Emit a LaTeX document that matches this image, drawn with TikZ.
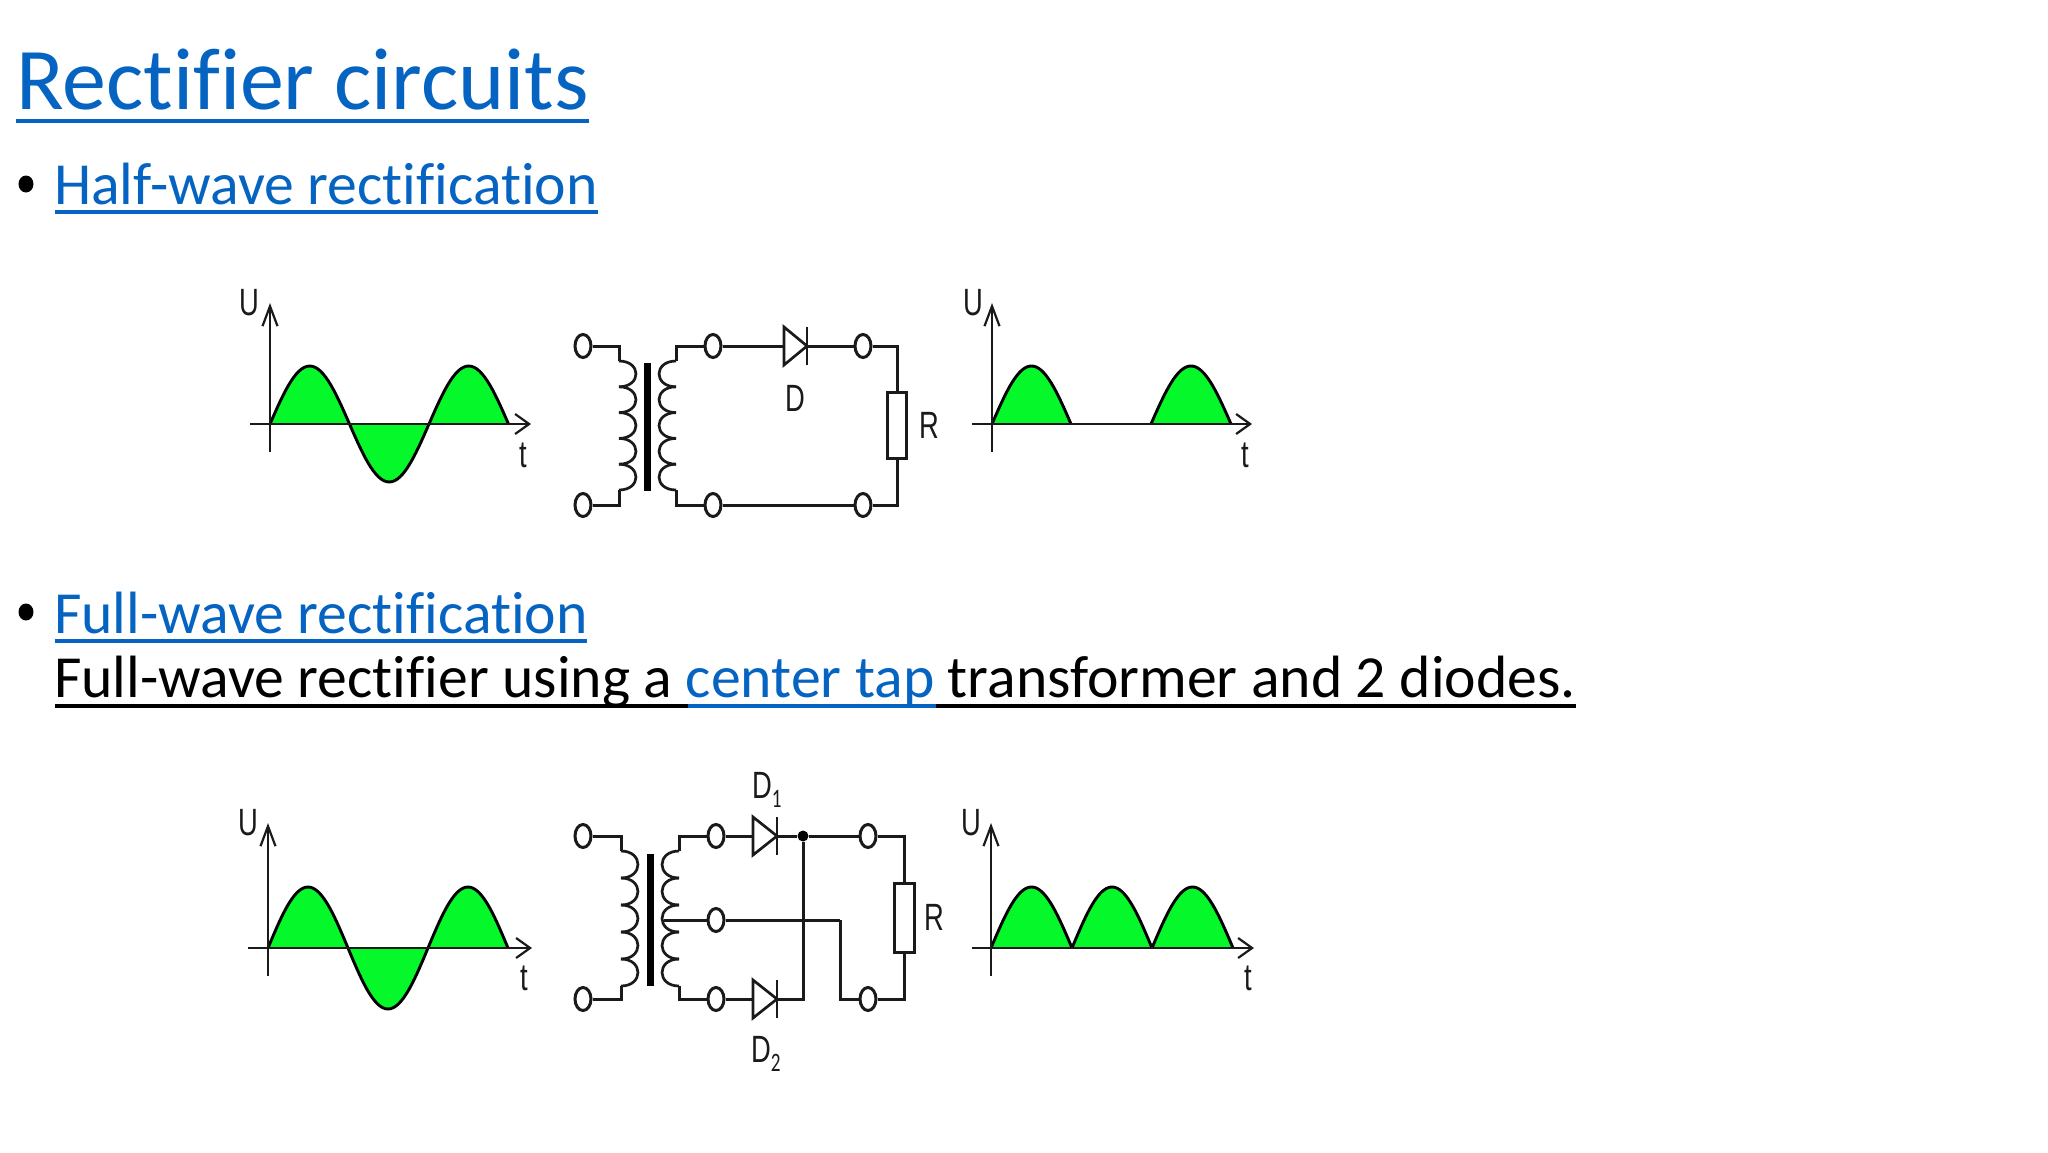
\documentclass[tikz,border=0pt]{standalone}
\usepackage{fontspec}
\usepackage{graphicx}
\setmainfont[Ligatures={NoCommon}]{Carlito}
\newfontfamily\lblfont{Liberation Sans}
\usetikzlibrary{arrows.meta,shapes.geometric}
\definecolor{linkblue}{HTML}{0563C1}
\definecolor{wavegreen}{HTML}{05F82A}
\definecolor{ink}{HTML}{1A1A1A}
\tikzset{
  headtext/.style={anchor=base west,inner sep=0pt,text=linkblue,font=\fontsize{88}{88}\selectfont},
  bodytext/.style={anchor=base west,inner sep=0pt,font=\fontsize{59.7}{60}\selectfont},
  ul/.style={line width=3.2pt},
  bul/.style={ellipse,fill=black,minimum width=15pt,minimum height=17pt,inner sep=0pt},
  term/.style={ellipse,draw=ink,line width=3pt,fill=white,minimum width=16pt,minimum height=23pt,inner sep=0pt},
  wire/.style={draw=ink,line width=3pt,line join=miter},
  coilline/.style={draw=ink,line width=2.7pt},
  core/.style={fill=black},
  axisline/.style={draw=ink,line width=2.5pt},
  vhead/.style={-{Straight Barb[length=20pt,width=15pt,line width=2.2pt]}},
  hhead/.style={-{Straight Barb[length=14pt,width=20pt,line width=2.2pt]}},
  wave/.style={draw=black,line width=2.9pt,line join=round},
  area/.style={fill=wavegreen},
  lbl/.style={inner sep=0pt,text=ink,font=\lblfont\fontsize{38}{38}\selectfont},
  resist/.style={rectangle,draw=ink,line width=3pt,fill=white,minimum width=19pt,minimum height=66pt,inner sep=0pt},
  diodeshape/.style={draw=ink,line width=2.7pt,line join=miter},
  dot/.style={circle,fill=black,minimum size=11pt,inner sep=0pt}
}
\newcommand{\nar}[1]{\scalebox{0.72}[1]{#1}}
\newcommand{\sinewave}[4]{%
  \path[area] plot[domain=0:3,samples=91] ({#1+\x*#2},{#3-#4*sin(\x*180)}) -- cycle;
  \path[wave] plot[domain=0:3,samples=91] ({#1+\x*#2},{#3-#4*sin(\x*180)});
}
\newcommand{\hump}[4]{%
  \path[area] plot[domain=0:1,samples=41] ({#1+\x*(#2-#1)},{#3-#4*sin(\x*180)}) -- cycle;
  \path[wave] plot[domain=0:1,samples=41] ({#1+\x*(#2-#1)},{#3-#4*sin(\x*180)});
}
\newcommand{\axes}[7]{%
  \coordinate (#1vb) at (#2,#5); \coordinate (#1vt) at (#2,#4);
  \coordinate (#1hl) at (#6,#3); \coordinate (#1hr) at (#7,#3);
  \draw[axisline,vhead] (#1vb) -- (#1vt);
  \draw[axisline,hhead] (#1hl) -- (#1hr);
}
\newcommand{\coil}[4]{%
  \foreach \k in {0,...,4}{%
    \draw[coilline] ({#1},{#2+\k*#3}) .. controls ({#1+1.33*#4},{#2+\k*#3}) and ({#1+1.33*#4},{#2+(\k+1)*#3}) .. ({#1},{#2+(\k+1)*#3});
  }%
}
\newcommand{\diode}[5]{%
  \coordinate (#1a) at (#2,#4); \coordinate (#1c) at (#3,#4);
  \draw[diodeshape] (#2,{#4-#5}) -- (#1c) -- (#2,{#4+#5}) -- cycle;
  \draw[diodeshape] (#3,{#4-#5}) -- (#3,{#4+#5});
}
\begin{document}
\begin{tikzpicture}[x=1pt,y=-1pt]
\useasboundingbox[fill=white] (0,0) rectangle (2048,1152);

% ---- text
\node[headtext] (title) at (16,109) {Rectifier circuits};
\draw[ul,draw=linkblue,line width=4.5pt] (16,121) -- (589,121);
\node[bul] (b1) at (26,184) {};
\node[bodytext,text=linkblue] (half) at (54,204) {Half-wave rectification};
\draw[ul,draw=linkblue] (55,212) -- (598,212);
\node[bul] (b2) at (26,612) {};
\node[bodytext,text=linkblue] (full) at (54,633) {Full-wave rectification};
\draw[ul,draw=linkblue] (55,641) -- (587,641);
\node[bodytext] (desc) at (54,697) {Full-wave rectifier using a \textcolor{linkblue}{center tap} transformer and 2 diodes.};
\draw[ul,draw=black] (55,706) -- (688,706);
\draw[ul,draw=linkblue] (688,706) -- (936,706);
\draw[ul,draw=black] (936,706) -- (1576,706);

% ---- half-wave: input graph
\sinewave{270}{79.5}{424}{58}
\axes{ax1}{270}{424}{303}{452}{250}{531}
\node[lbl] (u1) at (249,303) {\nar{U}};
\node[lbl] (t1) at (523,455) {\nar{t}};

% ---- half-wave: circuit
\node[term] (a1) at (583,346) {};
\node[term] (a2) at (583,505) {};
\node[term] (a3) at (713,346) {};
\node[term] (a4) at (713,505) {};
\node[term] (a5) at (863,346) {};
\node[term] (a6) at (863,505) {};
\coordinate (ac1) at (619,361); \coordinate (ac2) at (619,490);
\coordinate (ac3) at (676,361); \coordinate (ac4) at (676,490);
\coil{619}{361}{25.8}{17}
\coil{676}{361}{25.8}{-17}
\fill[core] (644,363) rectangle (651,491);
\draw[wire] (a1) -| (ac1);
\draw[wire] (a2) -| (ac2);
\draw[wire] (a3) -| (ac3);
\draw[wire] (a4) -| (ac4);
\diode{da}{784}{807}{346}{19}
\draw[wire] (a3) -- (daa);
\draw[wire] (dac) -- (a5);
\node[resist] (ra) at (897,425) {};
\draw[wire] (a5) -| (ra.north);
\draw[wire] (ra.south) |- (a6);
\draw[wire] (a4) -- (a6);
\node[lbl] (dl) at (795,398) {\nar{D}};
\node[lbl] (rl) at (929,425) {\nar{R}};

% ---- half-wave: output graph
\hump{992}{1071}{424}{58}
\hump{1151}{1231}{424}{58}
\axes{ax2}{992}{424}{303}{452}{972}{1252}
\node[lbl] (u2) at (973,303) {\nar{U}};
\node[lbl] (t2) at (1245,455) {\nar{t}};

% ---- full-wave: input graph
\sinewave{268}{80}{948}{61}
\axes{ax3}{268}{948}{823}{976}{248}{532}
\node[lbl] (u3) at (248,823) {\nar{U}};
\node[lbl] (t3) at (524,978) {\nar{t}};

% ---- full-wave: circuit
\node[term] (b1t) at (583,836) {};
\node[term] (b2t) at (583,999) {};
\node[term] (b3t) at (716,836) {};
\node[term] (b4t) at (716,920) {};
\node[term] (b5t) at (716,999) {};
\node[term] (b6t) at (868,836) {};
\node[term] (b7t) at (868,999) {};
\coordinate (bc1) at (621,851); \coordinate (bc2) at (621,986);
\coordinate (bc3) at (679,851); \coordinate (bc4) at (679,986);
\coordinate (bmid) at (664,920);
\coil{621}{851}{27}{17}
\coil{679}{851}{27}{-17}
\fill[core] (647,854) rectangle (654,986);
\draw[wire] (b1t) -| (bc1);
\draw[wire] (b2t) -| (bc2);
\draw[wire] (b3t) -| (bc3);
\draw[wire] (b5t) -| (bc4);
\draw[wire] (bmid) -- (b4t);
\diode{db}{753}{777}{836}{19}
\diode{dc}{753}{777}{999}{19}
\draw[wire] (b3t) -- (dba);
\draw[wire] (b5t) -- (dca);
\node[dot] (jn) at (803,836) {};
\draw[wire] (dbc) -- (jn);
\draw[wire] (jn) -- (b6t);
\draw[wire] (jn) |- (dcc);
\coordinate (bturn) at (840,920);
\draw[wire] (b4t) -- (bturn);
\draw[wire] (bturn) |- (b7t);
\node[resist,minimum width=20pt,minimum height=69pt] (rb) at (904,918) {};
\draw[wire] (b6t) -| (rb.north);
\draw[wire] (rb.south) |- (b7t);
\node[lbl] (d1l) at (767,790) {\nar{D$_{\mathrm{1}}$}};
\node[lbl] (d2l) at (766,1054) {\nar{D$_{\mathrm{2}}$}};
\node[lbl] (rl2) at (934,917) {\nar{R}};

% ---- full-wave: output graph
\hump{991}{1072}{948}{61}
\hump{1072}{1152}{948}{61}
\hump{1152}{1233}{948}{61}
\axes{ax4}{991}{948}{823}{976}{972}{1254}
\node[lbl] (u4) at (971,823) {\nar{U}};
\node[lbl] (t4) at (1248,978) {\nar{t}};
\end{tikzpicture}
\end{document}
